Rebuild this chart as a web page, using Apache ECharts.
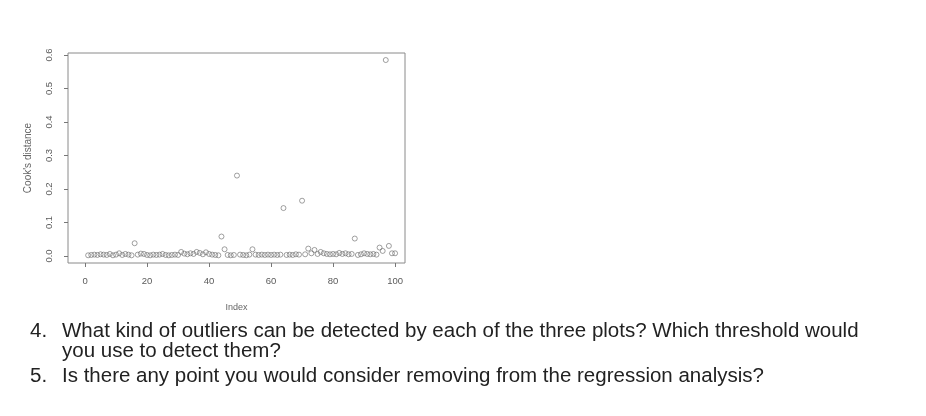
<!DOCTYPE html>
<html>
<head>
<meta charset="utf-8">
<script src="https://cdn.jsdelivr.net/npm/echarts@6/dist/echarts.min.js"></script>
<style>
html,body{margin:0;padding:0;background:#fff;}
#chart{width:926px;height:416px;}
</style>
</head>
<body>
<div id="chart"></div>
<script>
// Cook's distance by observation index (1..100)
const cooksDistance = [
  0.002,0.003,0.004,0.003,0.005,0.004,0.003,0.006,0.002,0.004,
  0.008,0.003,0.006,0.004,0.002,0.038,0.004,0.007,0.006,0.003,
  0.002,0.004,0.003,0.004,0.006,0.003,0.002,0.003,0.004,0.003,
  0.012,0.007,0.005,0.008,0.006,0.012,0.009,0.005,0.011,0.006,
  0.004,0.003,0.002,0.058,0.020,0.003,0.002,0.003,0.240,0.004,
  0.003,0.002,0.004,0.020,0.004,0.003,0.004,0.003,0.004,0.003,
  0.004,0.003,0.004,0.143,0.003,0.004,0.003,0.005,0.004,0.165,
  0.005,0.022,0.008,0.018,0.006,0.012,0.008,0.006,0.005,0.006,
  0.005,0.009,0.006,0.008,0.005,0.006,0.052,0.003,0.005,0.008,
  0.006,0.005,0.006,0.004,0.025,0.015,0.585,0.030,0.008,0.008
];
const xTicks = [0, 20, 40, 60, 80, 100];
const yTicks = [0, 0.1, 0.2, 0.3, 0.4, 0.5, 0.6];
const xTitle = 'Index';
const yTitle = "Cook's distance";
const questionLines = [
  ['4.', 'What kind of outliers can be detected by each of the three plots? Which threshold would'],
  ['', 'you use to detect them?'],
  ['5.', 'Is there any point you would consider removing from the regression analysis?']
];

const points = cooksDistance.map((v, i) => [i + 1, v]);

const chart = echarts.init(document.getElementById('chart'), null, {renderer: 'canvas'});
const axisFont = {fontFamily: 'Liberation Sans', fontSize: 9.5, color: '#5a5a5a'};
const textBlocks = [];
const lineY = [333, 353, 378];
const qFont = '20.5px "Liberation Sans"';
questionLines.forEach((ln, i) => {
  if (ln[0]) textBlocks.push({type: 'text', left: 30, top: lineY[i] - 12,
    style: {text: ln[0], font: qFont, fill: '#222'}});
  textBlocks.push({type: 'text', left: 62, top: lineY[i] - 12,
    style: {text: ln[1], font: qFont, fill: '#222'}});
});

chart.setOption({
  backgroundColor: '#fff',
  animation: false,
  grid: {left: 68, top: 53, right: 521, bottom: 153, show: true,
         borderColor: '#8a8a8a', borderWidth: 1, backgroundColor: 'transparent'},
  xAxis: {
    type: 'value', min: -5.5, max: 103.2,
    name: xTitle, nameLocation: 'middle', nameGap: 40,
    nameTextStyle: {fontFamily: 'Liberation Sans', fontSize: 9, color: '#666'},
    axisLine: {show: false, onZero: false},
    axisTick: {show: true, customValues: xTicks, length: 4, inside: false,
               lineStyle: {color: '#777', width: 1}},
    axisLabel: {customValues: xTicks, margin: 13, ...axisFont},
    splitLine: {show: false}
  },
  yAxis: {
    type: 'value', min: -0.021, max: 0.606,
    name: yTitle, nameLocation: 'middle', nameGap: 35, nameRotate: 90,
    nameTextStyle: {fontFamily: 'Liberation Sans', fontSize: 10, color: '#666'},
    axisLine: {show: false, onZero: false},
    axisTick: {show: true, customValues: yTicks, length: 4,
               lineStyle: {color: '#777', width: 1}},
    axisLabel: {customValues: yTicks, rotate: 90, margin: 14,
                formatter: v => v.toFixed(1), ...axisFont},
    splitLine: {show: false}
  },
  series: [{
    type: 'scatter',
    data: points,
    symbol: 'circle',
    symbolSize: 5,
    itemStyle: {color: 'rgba(255,255,255,0)', borderColor: '#6a6a6a', borderWidth: 0.8}
  }],
  graphic: textBlocks
});
</script>
</body>
</html>
